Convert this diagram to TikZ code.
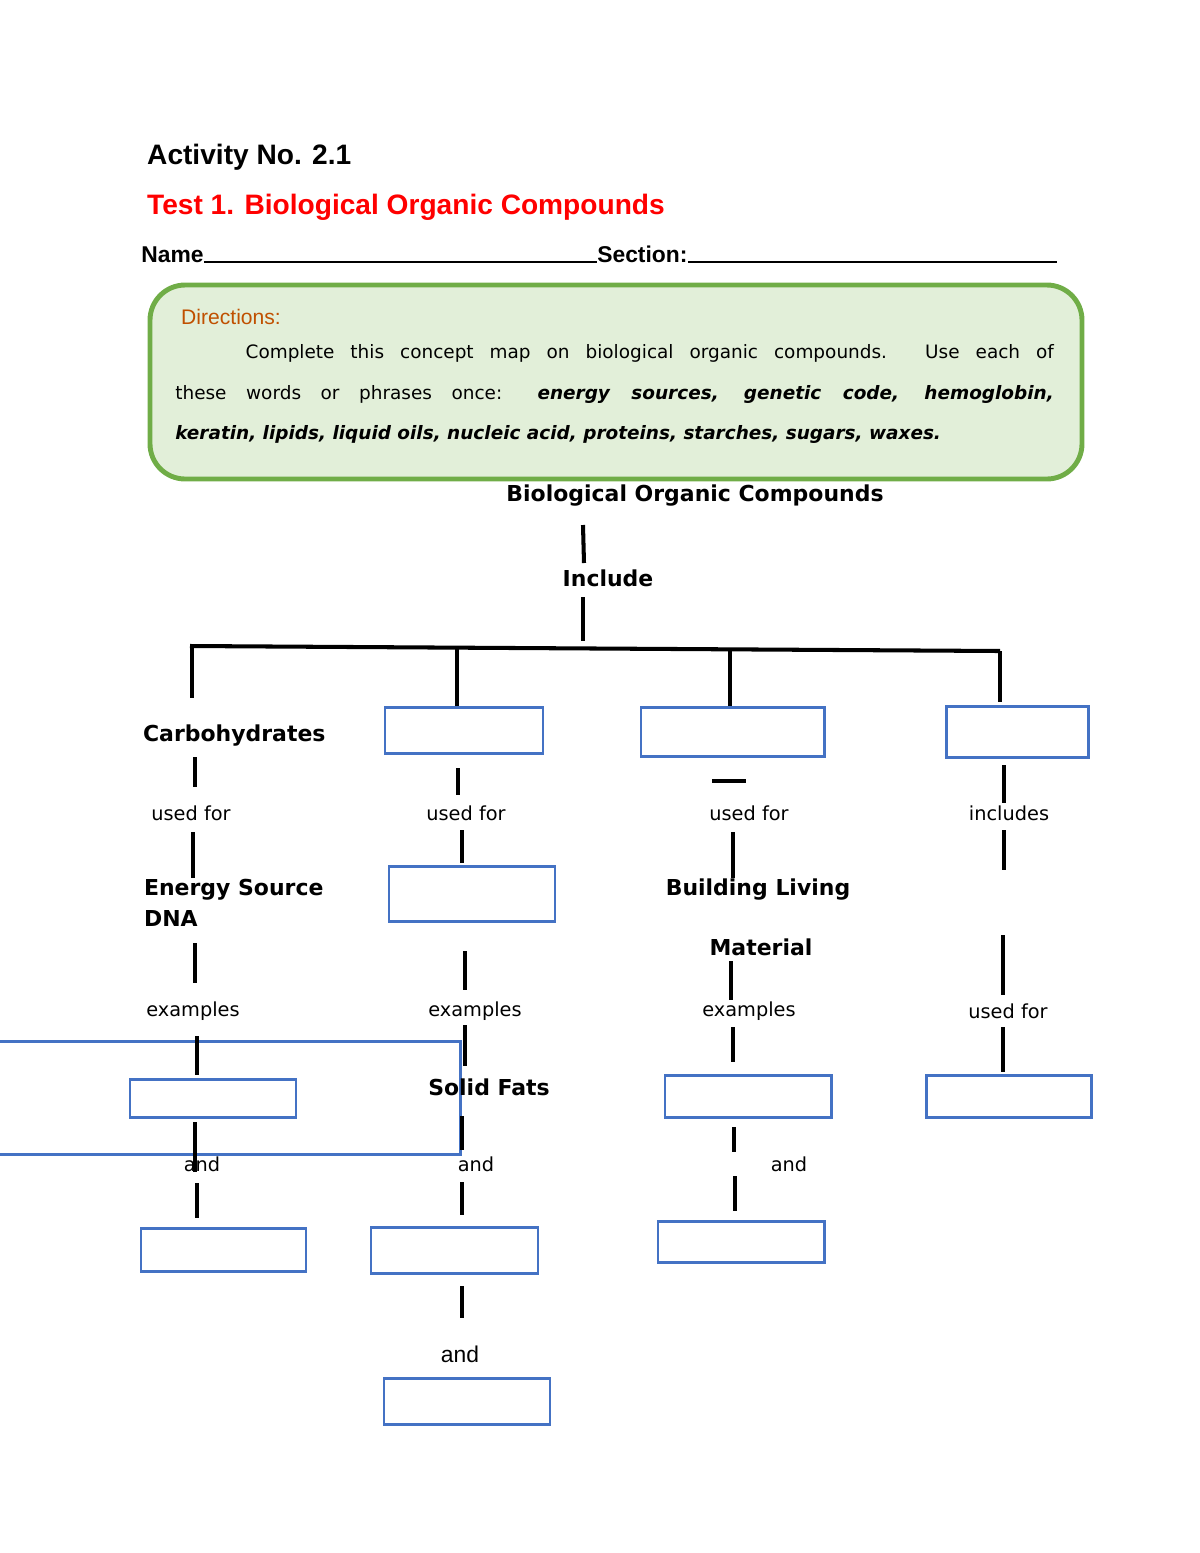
\documentclass[tikz,border=0pt]{standalone}
\usepackage{fontspec}
\setmainfont{Liberation Sans}
\newfontfamily\mapfont{DejaVu Sans}
\usetikzlibrary{arrows.meta}
\usetikzlibrary{calc}
\definecolor{boxblue}{RGB}{68,114,196}
\definecolor{dirgreen}{RGB}{112,173,71}
\definecolor{dirfill}{RGB}{226,239,217}
\definecolor{dirred}{RGB}{192,80,0}
\tikzset{
  blank/.style={draw=boxblue, line width=1.7pt, inner sep=0pt},
  stub/.style={line width=2.3pt},
  lbl/.style={font=\mapfont\fontsize{11}{13}\selectfont, inner sep=1pt},
  topic/.style={font=\mapfont\bfseries\fontsize{12.5}{15}\selectfont, inner sep=1pt},
}
\begin{document}
\begin{tikzpicture}[x=0.02cm, y=-0.02cm]
    \useasboundingbox (0,0) rectangle (1200,1553);
    % header
    \node[anchor=west, font=\bfseries\fontsize{16}{19}\selectfont] (act) at (141,157) {Activity No. 2.1};
    \node[anchor=west, font=\bfseries\fontsize{16}{19}\selectfont, text=red] (test) at (141,207) {Test 1. Biological Organic Compounds};
    \node[anchor=base west, font=\bfseries\fontsize{13}{15}\selectfont, inner sep=0pt] (name) at (141,262) {Name};
    \node[anchor=base west, font=\bfseries\fontsize{13}{15}\selectfont, inner sep=0pt] (sec) at (597,262) {Section:};
    \draw[line width=0.8pt] (name.base east) -- (sec.base west);
    \draw[line width=0.8pt] (sec.base east) -- (1057,262);

    % directions
    \draw[draw=dirgreen, fill=dirfill, line width=2.8pt, rounded corners=20pt] (150,285) rectangle (1082,479);
    \node[anchor=west, font=\fontsize{12}{14}\selectfont, text=dirred] (dir) at (175,317) {Directions:};
    \node[anchor=north west, text width=500pt, align=justify, inner sep=0pt,
          font=\mapfont\fontsize{10.5}{23.2}\selectfont] (para) at (175,344)
      {\hspace*{40pt}Complete this concept map on biological organic compounds. Use each of\linebreak
       these words or phrases once: \textbf{\textit{energy sources, genetic code, hemoglobin,}}\linebreak
       \textbf{\textit{keratin, lipids, liquid oils, nucleic acid, proteins, starches, sugars, waxes.}}};

    % root
    \node[topic] (root) at (695,496) {Biological Organic Compounds};
    \node[topic] (incl) at (608,578) {Include};
    \draw[stub] (583,525) -- (584,563);
    \draw[stub] (583,597) -- (583,641);
    \draw[stub] (190,646) -- (1000,651);
    \draw[stub] (192,646) -- (192,698);
    \draw[stub] (457,648) -- (457,706);
    \draw[stub] (730,650) -- (730,706);
    \draw[stub] (1000,651) -- (1000,702);

    % column 1
    \begin{scope}
      \node[topic, anchor=west] (carb) at (141,736) {Carbohydrates};
      \node[lbl] (usedA) at (191,813) {used for};
      \node[topic, anchor=west] (energy) at (142,890) {Energy Source};
      \node[topic, anchor=west] (dna) at (142,918) {DNA};
      \node[lbl] (exA) at (193,1011) {examples};
      \node[blank, minimum width=166\pgflinewidth, minimum height=38\pgflinewidth] at (213,1098) {};
      \draw[blank] (130,1079) rectangle (296,1117);
      \node[lbl] (andA) at (202,1164) {and};
      \draw[blank] (141,1228) rectangle (306,1271);
      \draw[stub] (195,757) -- (195,787);
      \draw[stub] (193,832) -- (193,878);
      \draw[stub] (195,943) -- (195,983);
      \draw[stub] (197,1036) -- (197,1075);
      \draw[stub] (195,1122) -- (195,1172);
      \draw[stub] (197,1183) -- (197,1218);
    \end{scope}

    % column 2
    \begin{scope}
      \draw[blank] (385,707) rectangle (543,753);
      \node[lbl] (usedB) at (466,813) {used for};
      \draw[blank] (389,866) rectangle (555,921);
      \node[lbl] (exB) at (475,1011) {examples};
      \node[topic] (solid) at (489,1087) {Solid Fats};
      \node[lbl] (andB) at (476,1164) {and};
      \draw[blank] (371,1227) rectangle (538,1273);
      \node[font=\fontsize{13}{15}\selectfont] (andC) at (460,1354) {and};
      \draw[blank] (384,1378) rectangle (550,1424);
      \draw[stub] (458,768) -- (458,795);
      \draw[stub] (462,830) -- (462,863);
      \draw[stub] (465,951) -- (465,990);
      \draw[stub] (465,1025) -- (465,1066);
      \draw[stub] (462,1116) -- (462,1150);
      \draw[stub] (462,1182) -- (462,1215);
      \draw[stub] (462,1286) -- (462,1318);
    \end{scope}

    % column 3
    \begin{scope}
      \draw[blank] (641,707) rectangle (824,756);
      \draw[stub] (712,781) -- (746,781);
      \node[lbl] (usedC) at (749,813) {used for};
      \node[topic] (build) at (758,890) {Building Living};
      \node[topic] (mat) at (761,947) {Material};
      \node[lbl] (exC) at (749,1011) {examples};
      \draw[blank] (665,1075) rectangle (831,1117);
      \node[lbl] (andD) at (789,1164) {and};
      \draw[blank] (658,1221) rectangle (824,1262);
      \draw[stub] (733,832) -- (733,878);
      \draw[stub] (731,961) -- (731,1000);
      \draw[stub] (733,1027) -- (733,1062);
      \draw[stub] (734,1127) -- (734,1152);
      \draw[stub] (735,1176) -- (735,1211);
    \end{scope}

    % column 4
    \begin{scope}
      \draw[blank] (946,706) rectangle (1088,757);
      \node[lbl] (inc) at (1009,813) {includes};
      \node[lbl] (usedD) at (1008,1011) {used for};
      \draw[blank] (926,1075) rectangle (1091,1117);
      \draw[stub] (1004,765) -- (1004,803);
      \draw[stub] (1004,830) -- (1004,870);
      \draw[stub] (1003,935) -- (1003,995);
      \draw[stub] (1003,1027) -- (1003,1072);
    \end{scope}
\end{tikzpicture}
\end{document}
